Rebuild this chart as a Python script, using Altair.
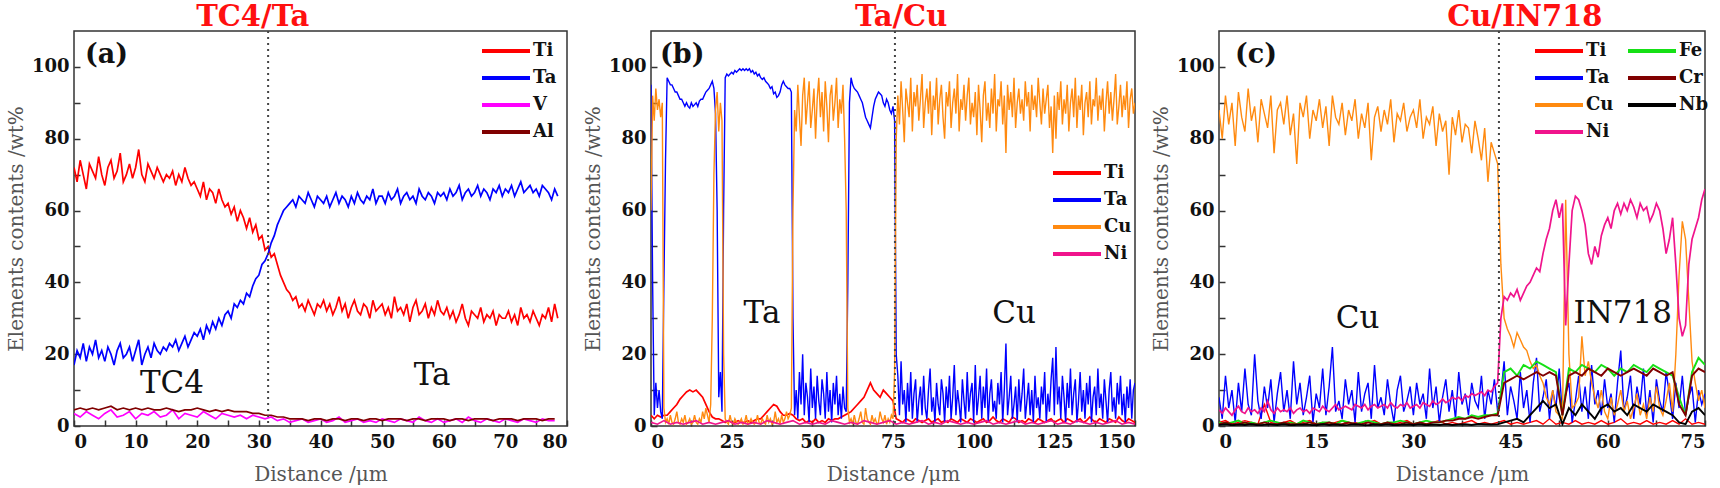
import altair as alt
import pandas as pd

SERIF = "DejaVu Serif"

# ---------------- (a) TC4/Ta line scan ----------------
# Ti and Ta sampled every 0.5 µm, V and Al every 1 µm
a_ti = [72, 68, 74, 70, 66, 73, 71, 69, 75, 70, 67, 72, 74, 69, 71, 76, 68, 70, 73, 69,
        72, 77, 70, 68, 73, 71, 69, 72, 70, 68,
        70, 69, 71, 67, 70, 68, 72, 69, 67, 68,
        66, 64, 68, 63, 66, 65, 62, 66, 63, 61,
        62, 59, 61, 57, 60, 58, 55, 58, 54, 56,
        52, 53, 49, 50, 47, 48, 45, 42, 40, 38,
        37, 35, 36, 33, 34, 32, 35, 33, 31, 34,
        33, 35, 32, 34, 31, 33, 36, 32, 34, 30, 33, 35, 32, 31, 34, 33, 30, 35, 32, 33,
        34, 31, 33, 30, 36, 32, 33, 31, 34, 29, 33, 35, 31, 32, 34, 30, 33, 31, 35, 32,
        31, 33, 30, 32, 29, 31, 34, 30, 28, 32, 31, 30, 33, 29, 31, 30, 32, 28, 31, 30,
        30, 32, 29, 31, 28, 33, 30, 31, 29, 32, 30, 28, 31, 30, 33, 29, 34, 30]
a_ta = [17, 21, 19, 23, 18, 22, 20, 24, 19, 21, 18, 22, 20, 17, 21, 23, 19, 20, 22, 18,
        21, 24, 17, 20, 22, 19, 23, 21, 20, 22,
        21, 23, 22, 24, 21, 23, 25, 22, 24, 26,
        25, 27, 24, 28, 26, 29, 27, 30, 28, 31,
        32, 30, 34, 33, 35, 34, 37, 36, 39, 41,
        42, 45, 46, 48, 51, 53, 56, 58, 60, 61,
        62, 63, 61, 64, 63, 62, 65, 63, 61, 64,
        63, 62, 64, 61, 63, 65, 62, 64, 63, 61, 64, 62, 65, 63, 62, 64, 63, 66, 62, 64,
        64, 62, 65, 63, 64, 66, 62, 64, 65, 63, 64, 62, 66, 64, 63, 65, 64, 62, 65, 64,
        65, 63, 66, 64, 65, 67, 63, 65, 66, 64, 65, 67, 64, 66, 65, 63, 66, 65, 67, 64,
        66, 65, 67, 64, 66, 68, 65, 66, 67, 65, 66, 64, 67, 66, 65, 63, 66, 64]
a_v = [3.5, 2.5, 4, 3, 2, 3.5, 4.5, 2.5, 3, 4, 2, 3.5, 3, 4, 2.5, 3, 4.5, 2, 3.5, 3,
       2.5, 4, 3, 2, 3.5, 3, 2.5, 3, 2, 3,
       2.5, 2, 2.5, 1.5, 2, 1, 1.5, 2, 1, 1.5, 2, 1, 1.5, 2.5, 1, 1.5, 2, 1, 1.5, 1,
       2, 1.5, 1, 2, 1.5, 1, 2.5, 1.5, 1, 2, 1, 1.5, 2, 1, 2.5, 1.5, 1, 2, 1.5, 1,
       2, 1.5, 1, 2, 1.5, 1, 2, 1.5, 1.5]
a_al = [4.5, 5, 4.5, 5, 4.5, 5, 5.5, 4.5, 5, 4.5, 5, 4.5, 5, 4.5, 4.5, 5, 4.5, 4, 4.5, 4.5,
        5, 4.5, 4, 4.5, 4, 4.5, 4, 4, 4, 3.5,
        3.5, 3, 3, 2.5, 2.5, 2, 2, 2, 1.5, 2, 2, 1.5, 2, 2, 1.5, 2, 2, 1.5, 2, 2,
        1.5, 2, 2, 2, 1.5, 2, 2, 1.5, 2, 2, 2, 1.5, 2, 2, 1.5, 2, 2, 2, 1.5, 2,
        2, 2, 1.5, 2, 2, 2, 1.5, 2, 2]

# ---------------- (b) Ta/Cu line scan ----------------
# Ta and Cu every 0.5 µm, Ti every 1 µm, Ni every 2 µm
b_ta = [95, 40, 3, 12, 5, 10, 4, 2, 40, 74,
        97, 96, 95, 95, 94, 93, 93, 92, 91, 91,
        90, 89, 90, 89, 88.5, 90, 89, 89.5, 90, 89,
        90.5, 91, 91, 92, 93, 93.5, 94, 95, 96, 94,
        87, 60, 8, 15, 4, 60, 97, 98, 97.5, 98,
        98.5, 98, 99, 98.5, 99, 99.5, 99, 99.5, 99, 99.5,
        99, 99.5, 98.5, 99, 98, 98.5, 97.5, 98, 97, 96.5,
        97, 96, 95.5, 95, 94, 94.5, 92.5, 93, 91.5, 92,
        93, 95, 96, 95, 94.5, 94, 94, 93, 30, 3,
        10, 2, 15, 6, 20, 3, 12, 8, 1, 16, 5, 11, 2, 14, 7, 3, 13, 9, 2, 15,
        4, 10, 1, 12, 6, 14, 3, 9, 2, 11, 5,
        4, 40, 90, 97, 95, 94, 93.5, 93, 92, 91, 90, 88, 86, 85, 84, 83,
        86, 89, 91, 92, 93, 92.5, 92, 90, 89, 91, 90, 88, 87, 89, 85, 20,
        14, 3, 18, 6, 10, 1, 12, 4, 15, 2, 9, 13, 1, 7, 11, 3, 14, 5, 2, 10,
        16, 4, 8, 1, 12, 6, 3, 13, 9, 1, 11, 5, 14, 2, 8, 17, 3, 10, 6, 1,
        13, 7, 2, 15, 4, 9, 12, 1,
        17, 3, 8, 14, 2, 11, 5, 16, 1, 9, 13, 4, 7, 2, 12, 6, 15, 1, 10, 23,
        3, 8, 14, 2, 6, 11, 1, 13, 4, 9, 16, 2, 7, 12, 3, 10, 1, 14, 5, 8,
        2, 11, 6, 15, 1, 9, 4, 13, 19, 3,
        22, 6, 11, 2, 14, 8, 1, 12, 5, 16, 3, 9, 13, 1, 7, 15, 4, 10, 2, 12,
        6, 14, 1, 8, 11, 3, 16, 5, 9, 2, 13, 7, 1, 10, 15, 4, 8, 2, 12, 6,
        14, 3, 9, 1, 11, 5, 13, 2, 10, 12]
b_cu = [60, 92, 85, 94, 88, 91, 86, 90, 5, 1,
        2, 0.5, 3, 1, 0.5, 2, 4, 1, 0.5, 2, 1, 3, 0.5, 1, 2, 0.5, 1, 3, 1, 0.5,
        2, 1, 4, 2, 5, 3, 1, 6,
        30, 70, 88, 93, 82, 90, 85, 20,
        2, 1, 0.5, 3, 1, 0.5, 2, 1, 0.5, 1, 2, 0.5, 1, 3, 0.5, 1, 2, 1, 0.5, 1,
        3, 1, 0.5, 2, 1, 0.5, 3, 1, 2, 0.5, 1, 4, 1, 2, 0.5, 3, 1, 2, 4, 2,
        3, 5,
        60, 88,
        82, 95, 86, 78, 92, 97, 84, 90, 96, 83, 88, 94, 80, 91, 97, 86, 93, 82, 96, 89,
        79, 92, 95, 85, 90, 97, 83, 91, 87, 95, 80,
        60, 5,
        1, 2, 0.5, 3, 1, 0.5, 2, 4, 1, 0.5, 5, 2, 1, 0.5, 3, 1, 2, 0.5, 1, 4,
        2, 1, 3, 0.5, 2, 1, 3, 2,
        15, 80,
        92, 84, 96, 88, 79, 94, 90, 86, 97, 82, 93, 89, 95, 85, 91, 98, 83, 90, 94, 87,
        96, 81, 92, 88, 97, 84, 91, 95, 86, 80, 93, 89, 96, 83, 90, 94, 87, 98, 82, 91,
        88, 95, 85, 92, 97, 84, 90, 86,
        93, 81, 95, 88, 79, 92, 96, 85, 90, 83, 94, 87, 98, 82, 91, 89, 96, 84, 92, 76,
        95, 88, 93, 86, 97, 83, 90, 94, 87, 91, 85, 96, 89, 93, 82, 95, 88, 92, 86, 97,
        90, 84, 94, 87, 91, 95, 83, 89, 76, 92,
        80, 93, 88, 96, 84, 91, 87, 95, 82, 90, 94, 86, 97, 83, 92, 88, 95, 81, 90, 93,
        86, 96, 84, 91, 89, 97, 85, 92, 88, 94, 82, 90, 96, 87, 93, 85, 91, 98, 84, 89,
        95, 86, 92, 88, 96, 83, 91, 94, 87, 90]
b_ti = [3, 2, 3, 2.5, 3, 3, 4, 5, 6, 7.5, 8.5, 9.5, 10, 9.5, 10, 9, 8, 6, 4, 2.5,
        2, 2, 1.5, 1, 1.5, 1, 1, 1.5, 1, 1, 1.5, 1, 1.5, 2, 2, 3, 4, 5, 6, 5.5,
        4, 3, 3, 3.5, 3, 2, 1.5, 2, 1, 1.5, 1, 2, 1, 1.5, 1, 2, 1.5, 2, 2, 2.5,
        3, 3.5, 4, 5, 6, 7, 8, 10, 12, 10, 9, 8, 10, 9, 8, 7, 2,
        1.5, 1, 2, 1.5, 1, 2, 1.5, 1, 1.5, 2, 1, 1.5, 2, 1, 1.5, 1, 2, 1.5, 1, 2,
        1.5, 1, 2, 1.5, 1, 1.5, 2, 1, 1.5, 2.5, 1.5, 1, 2, 1.5, 1, 2.5, 2, 1, 1.5, 1,
        2, 1.5, 1, 2, 1.5, 1, 1.5, 2, 1, 1.5, 2, 1, 2, 1.5, 1, 1.5, 2, 1, 1.5, 2.5,
        1.5, 1, 2, 1.5, 1, 2, 1.5, 1, 2.5, 1.5, 1, 2, 1.5, 1]
b_ni = [1, 0.5, 1.5, 0.5, 1, 0.5, 1, 1.5, 0.5, 1, 0.5, 1, 1.5, 0.5, 1, 0.5, 1, 0.5, 1.5, 1,
        0.5, 1, 1.5, 0.5, 1, 0.5, 1, 0.5, 1.5, 1, 0.5, 1, 0.5, 1.5, 1, 0.5, 1, 1.5, 0.5, 1,
        0.5, 1, 1.5, 0.5, 1, 0.5, 1.5, 1, 0.5, 1, 0.5, 1, 1.5, 0.5, 1, 0.5, 1, 1.5, 0.5, 1,
        0.5, 1, 1.5, 0.5, 1, 0.5, 1.5, 1, 0.5, 1, 0.5, 1, 1.5, 0.5, 1, 0.5]

# ---------------- (c) Cu/IN718 line scan ----------------
# Cu, Ta and Ni every 0.5 µm; Ti, Fe, Cr and Nb every 1 µm
c_cu = [88, 80, 92, 84, 90, 78, 93, 86, 82, 94, 85, 89, 79, 91, 87, 83, 92, 76, 88, 90,
        84, 92, 81, 87, 73, 90, 86, 92, 80, 88, 85, 91, 83, 89, 78, 92, 86, 84, 90, 81,
        88, 85, 91, 80, 87, 83, 90, 74, 86, 89, 82, 88, 84, 91, 79, 87, 85, 90, 82, 86,
        88, 83, 91, 80, 86, 84, 89, 78, 87, 82, 85, 70, 86, 81, 88, 79, 84, 83, 76, 85,
        80, 74, 83, 68, 79, 76, 73,
        45,
        30, 27, 25, 22, 26, 24, 22, 21, 18, 16, 17, 14,
        12, 8, 6, 10, 4, 3, 2, 63, 20, 5,
        6, 8, 25, 14, 18, 12, 8, 5, 10, 4,
        2, 8, 3, 6, 10, 4, 7, 2, 5, 9,
        3, 6, 2, 8, 4, 11, 5, 3, 7, 12,
        4, 20, 42, 57, 52, 35, 18, 12, 7, 10, 5]
c_ta = [8, 2, 14, 5, 10, 1, 12, 4, 16, 6, 3, 20, 7, 2, 11, 5, 13, 1, 9, 15,
        4, 10, 2, 18, 6, 12, 3, 8, 14, 1, 9, 5, 16, 3, 11, 22, 4, 7, 2, 13,
        6, 10, 1, 15, 4, 9, 12, 2, 17, 5, 8, 3, 13, 6, 1, 10, 14, 4, 7, 11,
        3, 12, 6, 9, 2, 16, 5, 11, 1, 8, 13, 4, 10, 2, 15, 6, 9, 3, 12, 7,
        5, 14, 2, 10, 6, 13, 4, 9, 18, 3, 11, 7, 2, 15, 5, 10, 1, 12, 19, 4,
        8, 13, 2, 10, 5, 16, 3, 9, 12, 1, 7, 14, 4, 11, 2, 17, 6, 10, 3, 13,
        5, 9, 1, 12, 21, 4, 8, 14, 2, 11, 6, 16, 3, 10, 1, 13, 7, 4, 15, 9,
        2, 12, 5, 14, 3, 8, 11, 1, 10, 6, 9]
c_ni = [4.5, 3.5, 5, 4, 3, 4.5, 5.5, 4, 3.5, 5, 4, 4.5, 3.5, 5, 4, 7, 4.5, 3.5, 5, 4,
        4.5, 4, 5, 3.5, 4.5, 5, 4, 4.5, 3.5, 5, 4.5, 4, 5.5, 4.5, 4, 5, 6, 4.5, 5, 5.5,
        5, 4.5, 6, 5.5, 5, 6, 4.5, 5.5, 6, 5, 5.5, 6, 5, 6.5, 5.5, 5, 6, 5.5, 6.5, 5,
        5.5, 6, 5, 6.5, 6, 5.5, 7, 6, 6.5, 7.5, 6.5, 7, 8, 7.5, 8, 7, 8.5, 8, 9, 8.5,
        9, 9.5, 8.5, 10, 9.5, 11, 12,
        30,
        36, 35, 37, 36, 38, 35, 37, 39, 40, 42, 44, 43,
        48, 52, 55, 60, 63, 58, 62, 28, 45, 60,
        64, 63, 60, 56, 48, 45, 50, 47, 53, 56,
        58, 55, 60, 62, 59, 62, 60, 63, 61, 58,
        62, 60, 61, 57, 59, 62, 60, 55, 48, 52,
        58, 45, 30, 25, 28, 45, 52, 55, 58, 63, 66]
c_ti = [1, 1.5, 0.5, 1, 1.5, 1, 0.5, 6, 1, 0.5, 1, 1.5, 0.5, 1, 1.5, 0.5, 1, 0.5, 1, 1.5,
        0.5, 1, 0.5, 1, 1.5, 0.5, 1, 0.5, 1, 1.5, 0.5, 1, 0.5, 1, 1.5, 0.5, 1, 0.5, 1, 1.5,
        0.5, 1, 0.5, 1, 1.5, 0.5, 1, 0.5, 1, 1.5, 0.5, 2, 0.5, 1, 0.5, 1.5, 0.5, 1, 0.5, 1.5,
        0.5, 1, 2, 0.5, 1, 0.5, 1.5, 0.5, 1, 0.5, 1.5, 0.5, 2, 0.5, 1, 0.5]
c_fe = [1, 0.5, 1, 1.5, 0.5, 1, 0.5, 1, 1.5, 1, 0.5, 1, 0.5, 1.5, 1, 0.5, 1, 1, 0.5, 1.5,
        1, 0.5, 1, 1.5, 1, 0.5, 1, 1, 1.5, 1, 0.5, 1, 1.5, 1, 1, 1.5, 2,
        2.5, 2, 3, 2.5, 3, 3, 3.5,
        15, 16, 14, 17, 16, 18, 17, 16, 15,
        3,
        16, 15, 17, 16, 15, 17, 16, 14, 16, 15, 17, 16, 15, 17, 16, 15, 14,
        8, 3,
        15, 19, 17]
c_cr = [0.5, 1, 0.5, 0.5, 1, 0.5, 0.5, 1, 0.5, 0.5, 1, 0.5, 0.5, 0.5, 1, 0.5, 0.5, 1, 0.5, 0.5,
        1, 0.5, 0.5, 1, 0.5, 0.5, 1, 0.5, 0.5, 1, 0.5, 1, 0.5, 1, 1, 1.5, 1.5,
        2, 2, 2.5, 2, 2.5, 3, 3,
        12, 13, 14, 13, 14, 15, 14, 15, 14,
        3,
        14, 15, 14, 16, 15, 14, 16, 15, 14, 15, 16, 15, 14, 16, 15, 14, 15,
        6, 3,
        14, 16, 15]
c_nb = [0.3, 0.5, 0.2, 0.4, 0.3, 0.5, 0.2, 0.3, 0.4, 0.3, 0.5, 0.2, 0.3, 0.4, 0.3, 0.2, 0.5, 0.3, 0.4, 0.2,
        0.3, 0.5, 0.3, 0.2, 0.4, 0.3, 0.5, 0.2, 0.3, 0.4, 0.3, 0.5, 0.2, 0.4, 0.3, 0.5, 0.3, 0.4, 0.5, 0.3,
        0.6, 0.5, 0.4, 0.5,
        1, 1.5, 2, 1, 3, 5, 7, 5, 6,
        0.5,
        5, 3, 6, 4, 2, 5, 6, 4, 5, 3, 6, 5, 4, 6, 5, 4, 3,
        1, 0.5,
        4, 5, 3]

# Element colours
COLORS = {"Ti": "#ff0000", "Ta": "#0000ff", "V": "#ff00ff", "Al": "#800000",
          "Cu": "#ff8a10", "Ni": "#f0148c", "Fe": "#16e016", "Cr": "#800000",
          "Nb": "#000000"}


def series(values, step, name):
    return pd.DataFrame({"dist": [i * step for i in range(len(values))],
                         "val": values, "el": name})


def panel(frames, draw_order, legend_order, widths, xmax, xstep, xmajor,
          legend_pos, legend_cols, boundary, title, title_x, regions, tag,
          tag_x, width):
    df = pd.concat(frames, ignore_index=True)
    xvals = [round(i * xstep, 2) for i in range(int(round(xmax / xstep)) + 1)]
    x_enc = alt.X("dist:Q", scale=alt.Scale(domain=[0, xmax], nice=False, zero=False),
                  axis=alt.Axis(values=xvals, title="Distance /μm",
                                labelExpr=f"datum.value % {xmajor} == 0 ? datum.label : ''"))
    y_enc = alt.Y("val:Q", scale=alt.Scale(domain=[0, 110], nice=False),
                  axis=alt.Axis(values=list(range(0, 101, 10)),
                                title="Elements contents /wt%",
                                labelExpr="datum.value % 20 == 0 ? datum.label : ''"))
    legend = alt.Legend(orient="none", legendX=legend_pos[0], legendY=legend_pos[1],
                        title=None, columns=legend_cols,
                        symbolType="M-2.4,0H2.4", symbolSize=400, symbolStrokeWidth=4,
                        labelFont=SERIF, labelFontWeight="bold", labelFontSize=18,
                        labelColor="#111", labelOffset=15, rowPadding=6,
                        columnPadding=legend_pos[2])
    color = alt.Color("el:N", legend=legend,
                      scale=alt.Scale(domain=legend_order,
                                      range=[COLORS[e] for e in legend_order]))
    layers = []
    for el in draw_order:
        layers.append(
            alt.Chart(df).transform_filter(alt.datum.el == el)
            .mark_line(strokeWidth=widths.get(el, 1.2), clip=True)
            .encode(x=x_enc, y=y_enc, color=color)
        )
    # interface marker
    layers.append(
        alt.Chart(pd.DataFrame({"dist": [boundary]}))
        .mark_rule(color="#444", strokeDash=[2, 4], strokeWidth=2)
        .encode(x=x_enc)
    )
    # region names
    reg = pd.DataFrame({"dist": [r[1] for r in regions], "val": [r[2] for r in regions],
                        "label": [r[0] for r in regions]})
    layers.append(
        alt.Chart(reg).mark_text(font=SERIF, fontSize=31, color="#111",
                                 baseline="alphabetic", align="center")
        .encode(x=x_enc, y=y_enc, text="label:N")
    )
    # joint name above the frame
    layers.append(
        alt.Chart(pd.DataFrame({"dist": [title_x], "label": [title]}))
        .mark_text(font=SERIF, fontSize=29, fontWeight="bold", color="#ff1010",
                   baseline="alphabetic", align="center")
        .encode(x=x_enc, y=alt.value(-5), text="label:N")
    )
    # panel tag
    layers.append(
        alt.Chart(pd.DataFrame({"label": [tag]}))
        .mark_text(font=SERIF, fontSize=27, fontWeight="bold", color="#111",
                   baseline="alphabetic", align="left")
        .encode(x=alt.value(tag_x), y=alt.value(32), text="label:N")
    )
    return alt.layer(*layers).properties(width=width, height=395)


pa = panel(
    [series(a_ti, 0.5, "Ti"), series(a_ta, 0.5, "Ta"), series(a_v, 1, "V"), series(a_al, 1, "Al")],
    ["Ti", "Ta", "V", "Al"], ["Ti", "Ta", "V", "Al"],
    {"Ti": 1.7, "Ta": 1.7, "V": 1.7, "Al": 1.7},
    80, 5, 10, (420, 8, 10), 1, 31.5, "TC4/Ta", 29,
    [("TC4", 15.9, 9.2), ("Ta", 58.1, 11.4)], "(a)", 11, 493)

pb = panel(
    [series(b_ti, 1, "Ti"), series(b_ta, 0.5, "Ta"), series(b_cu, 0.5, "Cu"), series(b_ni, 2, "Ni")],
    ["Ti", "Ta", "Cu", "Ni"], ["Ti", "Ta", "Cu", "Ni"],
    {"Ti": 1.7, "Ta": 1.4, "Cu": 1.4, "Ni": 1.7},
    150, 12.5, 25, (414, 130, 10), 1, 75.6, "Ta/Cu", 77.5,
    [("Ta", 34.4, 28.7), ("Cu", 112.5, 28.7)], "(b)", 9, 484)

pc = panel(
    [series(c_ti, 1, "Ti"), series(c_ta, 0.5, "Ta"), series(c_cu, 0.5, "Cu"), series(c_ni, 0.5, "Ni"),
     series(c_fe, 1, "Fe"), series(c_cr, 1, "Cr"), series(c_nb, 1, "Nb")],
    ["Ti", "Ta", "Cu", "Ni", "Fe", "Cr", "Nb"], ["Ti", "Ta", "Cu", "Ni", "Fe", "Cr", "Nb"],
    {"Ti": 1.4, "Ta": 1.4, "Cu": 1.4, "Ni": 1.7, "Fe": 1.9, "Cr": 1.9, "Nb": 1.9},
    75, 7.5, 15, (328, 8, 6), 2, 43.2, "Cu/IN718", 47.2,
    [("Cu", 21.4, 27.3), ("IN718", 62.3, 28.7)], "(c)", 16, 486)

chart = (
    alt.hconcat(pa, pb, pc, spacing=84, bounds="flush")
    .resolve_scale(color="independent", x="independent", y="independent")
    .properties(padding={"left": 5, "top": 2, "right": 2, "bottom": 2}, background="white")
    .configure_view(stroke="#333", strokeWidth=1.5)
    .configure_axis(labelFont=SERIF, labelFontWeight="bold", labelFontSize=18,
                    labelColor="#111", titleFont=SERIF, titleFontWeight="normal",
                    titleFontSize=20, titleColor="#555", domain=False, grid=False,
                    tickColor="#333", tickSize=6, tickWidth=1.5, offset=-6)
    .configure_axisX(labelPadding=7, titlePadding=13)
    .configure_axisY(labelPadding=5, titlePadding=5)
)

chart.save("out.html", embed_options={"renderer": "svg", "actions": False})
